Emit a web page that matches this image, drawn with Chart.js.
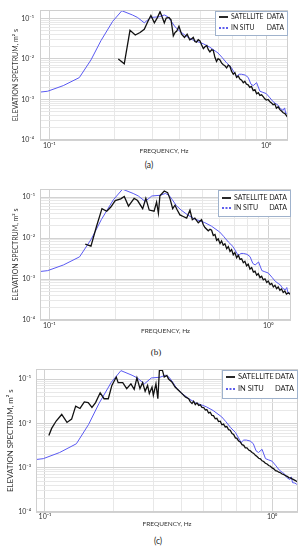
<!DOCTYPE html>
<html>
<head>
<meta charset="utf-8">
<script src="https://cdn.jsdelivr.net/npm/chart.js@4.4.1/dist/chart.umd.min.js"></script>
<style>
  body { margin: 0; background: #fff; width: 303px; height: 550px; position: relative; overflow: hidden; }
  canvas { position: absolute; left: 0; }
  .cap { position: absolute; width: 40px; text-align: center; font: 8.5px Lato, sans-serif; color: #222; }
</style>
</head>
<body>
<canvas id="chartA" width="303" height="160" style="top:0px"></canvas>
<div class="cap" style="left:129px; top:160px">(a)</div>
<canvas id="chartB" width="303" height="160" style="top:180px"></canvas>
<div class="cap" style="left:136px; top:347px; font-family:'Liberation Serif', serif; font-size:9px">(b)</div>
<canvas id="chartC" width="303" height="172" style="top:360px"></canvas>
<div class="cap" style="left:138px; top:536px">(c)</div>
<script>
// In situ spectrum (same buoy record in all three panels)
var inSituFreq = [0.0905, 0.0983, 0.116, 0.1375, 0.1557, 0.173, 0.196, 0.216, 0.2417, 0.255, 0.274, 0.294, 0.321, 0.339, 0.352, 0.365, 0.38, 0.40, 0.43, 0.461, 0.49, 0.513, 0.55, 0.60, 0.625, 0.657, 0.69, 0.73, 0.75, 0.77, 0.80, 0.826, 0.85, 0.871, 0.903, 0.935, 0.965, 1.0, 1.04, 1.076, 1.11, 1.135, 1.16, 1.197, 1.215, 1.23, 1.26, 1.285, 1.31];
var inSituSpec = [0.00152, 0.0016, 0.0022, 0.00347, 0.0095, 0.0283, 0.085, 0.155, 0.122, 0.106, 0.078, 0.106, 0.11, 0.122, 0.11, 0.085, 0.062, 0.048, 0.036, 0.029, 0.026, 0.0237, 0.0195, 0.014, 0.011, 0.008, 0.0062, 0.0037, 0.0042, 0.0042, 0.0040, 0.0035, 0.0024, 0.0022, 0.0026, 0.0016, 0.0015, 0.0014, 0.0011, 0.00088, 0.00078, 0.00072, 0.0006, 0.00054, 0.00062, 0.00046, 0.00045, 0.00042, 0.0004];

// Satellite spectrum, panel (a)
var satAFreq = [0.208, 0.2216, 0.2355, 0.249, 0.262, 0.274, 0.285, 0.294, 0.305, 0.315, 0.324, 0.331, 0.339, 0.346, 0.356, 0.364, 0.373, 0.380, 0.387, 0.396, 0.407, 0.42, 0.432, 0.444, 0.452, 0.461, 0.469, 0.477, 0.486, 0.495, 0.504, 0.513, 0.522, 0.532, 0.541, 0.55, 0.56, 0.57, 0.58, 0.59, 0.60, 0.612, 0.622, 0.634, 0.645, 0.657, 0.668, 0.68, 0.692, 0.705, 0.717, 0.73, 0.743, 0.756, 0.77, 0.784, 0.797, 0.81, 0.825, 0.84, 0.855, 0.871, 0.887, 0.903, 0.919, 0.935, 0.952, 0.97, 0.985, 1.0, 1.02, 1.04, 1.058, 1.076, 1.095, 1.114, 1.135, 1.156, 1.176, 1.197, 1.22, 1.235, 1.26];
var satASpec = [0.0100, 0.0076, 0.051, 0.039, 0.045, 0.054, 0.085, 0.118, 0.078, 0.105, 0.147, 0.11, 0.078, 0.102, 0.106, 0.093, 0.037, 0.045, 0.049, 0.064, 0.041, 0.034, 0.041, 0.0295, 0.031, 0.034, 0.027, 0.026, 0.030, 0.028, 0.022, 0.018, 0.020, 0.0215, 0.017, 0.015, 0.0168, 0.0164, 0.011, 0.0087, 0.0102, 0.0095, 0.0080, 0.0072, 0.0068, 0.0060, 0.0070, 0.0066, 0.0050, 0.0042, 0.0046, 0.0035, 0.0038, 0.0032, 0.0030, 0.0026, 0.0028, 0.0024, 0.0023, 0.0020, 0.0021, 0.00166, 0.00175, 0.00139, 0.00148, 0.00126, 0.00130, 0.00116, 0.00104, 0.00097, 0.00100, 0.00088, 0.00082, 0.00074, 0.00078, 0.00061, 0.00066, 0.00056, 0.00052, 0.00047, 0.00045, 0.00041, 0.00035];

// Satellite spectrum, panel (b)
var satBFreq = [0.146, 0.155, 0.164, 0.174, 0.183, 0.191, 0.20, 0.212, 0.22, 0.23, 0.244, 0.253, 0.267, 0.276, 0.286, 0.301, 0.309, 0.315, 0.32, 0.335, 0.347, 0.356, 0.366, 0.375, 0.384, 0.395, 0.409, 0.424, 0.439, 0.45, 0.462, 0.479, 0.496, 0.505, 0.514, 0.532, 0.542, 0.551, 0.561, 0.571, 0.581, 0.591, 0.602, 0.612, 0.623, 0.634, 0.646, 0.657, 0.669, 0.68, 0.692, 0.704, 0.717, 0.73, 0.743, 0.756, 0.769, 0.782, 0.796, 0.81, 0.825, 0.84, 0.855, 0.87, 0.885, 0.90, 0.917, 0.933, 0.949, 0.966, 0.984, 1.0, 1.019, 1.037, 1.055, 1.073, 1.092, 1.11, 1.13, 1.15, 1.17, 1.19, 1.21, 1.235, 1.27];
var satBSpec = [0.0071, 0.0063, 0.0185, 0.052, 0.045, 0.057, 0.082, 0.090, 0.103, 0.060, 0.093, 0.082, 0.052, 0.093, 0.048, 0.045, 0.075, 0.040, 0.107, 0.140, 0.128, 0.090, 0.052, 0.063, 0.048, 0.0366, 0.0335, 0.0307, 0.048, 0.028, 0.0307, 0.0235, 0.028, 0.021, 0.018, 0.015, 0.0164, 0.0155, 0.0115, 0.0122, 0.0088, 0.0095, 0.0073, 0.0085, 0.0067, 0.0072, 0.0055, 0.0062, 0.0047, 0.0052, 0.0039, 0.0044, 0.0033, 0.0038, 0.0030, 0.0031, 0.0025, 0.0027, 0.0021, 0.0023, 0.00175, 0.0019, 0.00148, 0.00156, 0.00124, 0.00135, 0.00108, 0.00116, 0.00095, 0.00101, 0.00082, 0.00089, 0.00073, 0.00078, 0.00064, 0.00070, 0.00058, 0.00064, 0.00053, 0.00057, 0.00047, 0.00051, 0.00043, 0.00046, 0.00041];

// Satellite spectrum, panel (c)
var satCFreq = [0.104, 0.107, 0.112, 0.1185, 0.125, 0.131, 0.1365, 0.1426, 0.149, 0.155, 0.161, 0.167, 0.175, 0.182, 0.19, 0.197, 0.206, 0.21, 0.22, 0.229, 0.239, 0.247, 0.254, 0.262, 0.269, 0.276, 0.283, 0.288, 0.296, 0.30, 0.308, 0.314, 0.319, 0.324, 0.329, 0.335, 0.344, 0.35, 0.362, 0.374, 0.387, 0.401, 0.415, 0.429, 0.436, 0.444, 0.451, 0.459, 0.467, 0.475, 0.483, 0.491, 0.50, 0.508, 0.516, 0.525, 0.534, 0.543, 0.552, 0.562, 0.571, 0.581, 0.591, 0.601, 0.611, 0.622, 0.632, 0.643, 0.654, 0.666, 0.677, 0.689, 0.70, 0.712, 0.724, 0.737, 0.75, 0.762, 0.775, 0.789, 0.802, 0.816, 0.83, 0.844, 0.858, 0.873, 0.888, 0.903, 0.918, 0.934, 0.95, 0.966, 0.983, 1.0, 1.017, 1.035, 1.052, 1.07, 1.088, 1.107, 1.126, 1.145, 1.165, 1.184, 1.205, 1.225, 1.25, 1.276, 1.30];
var satCSpec = [0.0053, 0.0077, 0.0113, 0.0159, 0.0105, 0.0125, 0.0245, 0.0217, 0.0305, 0.0295, 0.023, 0.0295, 0.049, 0.036, 0.036, 0.072, 0.111, 0.083, 0.083, 0.061, 0.078, 0.059, 0.107, 0.061, 0.083, 0.053, 0.072, 0.047, 0.066, 0.043, 0.078, 0.036, 0.16, 0.157, 0.157, 0.111, 0.121, 0.1, 0.086, 0.066, 0.056, 0.047, 0.0395, 0.036, 0.031, 0.028, 0.0316, 0.0266, 0.0290, 0.0255, 0.0262, 0.0230, 0.0228, 0.0200, 0.0205, 0.0172, 0.0178, 0.0152, 0.0150, 0.0127, 0.0130, 0.0110, 0.0112, 0.0093, 0.0096, 0.0083, 0.0085, 0.0072, 0.0070, 0.0059, 0.0056, 0.0047, 0.0046, 0.0040, 0.0038, 0.0033, 0.0032, 0.0028, 0.0028, 0.0025, 0.0024, 0.0022, 0.0021, 0.0019, 0.00178, 0.00163, 0.00158, 0.00143, 0.00138, 0.00126, 0.00121, 0.00112, 0.00108, 0.00099, 0.00094, 0.00086, 0.00084, 0.00079, 0.00077, 0.00072, 0.00070, 0.00066, 0.00064, 0.00060, 0.00059, 0.00056, 0.00053, 0.00050, 0.00047];

Chart.defaults.font.family = 'Lato, "DejaVu Sans", sans-serif';

var sup = { '-': '\u207B', '0': '\u2070', '1': '\u00B9', '2': '\u00B2', '3': '\u00B3', '4': '\u2074' };

function toXY(fs, ss) {
  return fs.map(function (f, i) { return { x: f, y: ss[i] }; });
}

// decade ticks + 2..9 minor ticks, labels only at powers of ten
function logTicks(scale) {
  var ticks = [];
  for (var e = -5; e <= 1; e++) {
    for (var d = 1; d <= 9; d++) {
      var v = d * Math.pow(10, e);
      if (v >= scale.min * 0.9999 && v <= scale.max * 1.0001) ticks.push({ value: v, major: d === 1 });
    }
  }
  scale.ticks = ticks;
}
function powLabel(value, index, ticks) {
  if (!ticks[index].major) return '';
  var e = String(Math.round(Math.log10(value)));
  return '10' + e.split('').map(function (c) { return sup[c]; }).join('');
}
function gridColor(ctx) {
  return ctx.tick && ctx.tick.major ? '#d2d2d2' : '#e8e8e8';
}

// grey frame round the plot + boxed legend at top right
var frameAndLegend = {
  id: 'frameAndLegend',
  afterDraw: function (chart) {
    var ctx = chart.ctx, a = chart.chartArea, lg = chart.options.plugins.frameAndLegend;
    ctx.save();
    ctx.strokeStyle = '#cfcfcf';
    ctx.lineWidth = 1;
    ctx.strokeRect(Math.round(a.left) + 0.5, Math.round(a.top) + 0.5, Math.round(a.right - a.left) - 1, Math.round(a.bottom - a.top) - 1);

    var x = Math.round(a.right - lg.w - 1), y = Math.round(a.top + 1);
    ctx.fillStyle = '#fff';
    ctx.fillRect(x, y, lg.w, lg.h);
    ctx.strokeStyle = '#9fb2cc';
    ctx.strokeRect(x + 0.5, y + 0.5, lg.w, lg.h);
    ctx.font = lg.font + 'px ' + Chart.defaults.font.family;
    ctx.textBaseline = 'middle';
    chart.data.datasets.forEach(function (ds, i) {
      var ly = y + lg.rows[i];
      ctx.strokeStyle = i ? '#2a2ae8' : '#111';
      ctx.lineWidth = i ? 1.4 : 1.8;
      ctx.setLineDash(i ? [2, 1.5] : []);
      ctx.beginPath();
      ctx.moveTo(x + 4, ly);
      ctx.lineTo(x + 13, ly);
      ctx.stroke();
      ctx.setLineDash([]);
      var words = ds.label.split(' ');
      var last = words.pop();
      ctx.fillStyle = '#222';
      ctx.textAlign = 'left';
      ctx.fillText(words.join(' '), x + 16, ly);
      ctx.textAlign = 'right';
      ctx.fillText(last, x + lg.w - 3, ly);
    });
    ctx.restore();
  }
};

function makeChart(id, satF, satS, p) {
  var config = {
    type: 'line',
    data: {
      datasets: [
        { label: 'SATELLITE DATA', data: toXY(satF, satS), borderColor: '#111', borderWidth: 1.3, pointRadius: 0, tension: 0 },
        { label: 'IN SITU DATA', data: toXY(inSituFreq, inSituSpec), borderColor: '#5a5af2', borderWidth: 1, pointRadius: 0, tension: 0 }
      ]
    },
    options: {
      responsive: false,
      animation: false,
      layout: { padding: p.pad },
      plugins: {
        legend: { display: false },
        tooltip: { enabled: false },
        frameAndLegend: p.legend
      },
      scales: {
        x: {
          type: 'logarithmic',
          min: p.xMin,
          max: p.xMax,
          afterBuildTicks: logTicks,
          afterFit: function (s) { s.height = p.xH; },
          border: { display: false },
          grid: { color: gridColor, drawTicks: false },
          ticks: { callback: powLabel, autoSkip: false, maxRotation: 0, padding: p.xTickPad, color: '#333', font: { size: 7 } },
          title: { display: true, text: 'FREQUENCY, Hz', color: '#333', font: { size: 6.5 }, padding: { top: 0, bottom: p.xTitlePad } }
        },
        y: {
          type: 'logarithmic',
          min: 0.0001,
          max: p.yMax,
          afterBuildTicks: logTicks,
          afterFit: function (s) { s.width = p.yW; },
          border: { display: false },
          grid: { color: gridColor, drawTicks: false },
          ticks: { callback: powLabel, autoSkip: false, padding: p.yTickPad, color: '#333', font: { size: 7 } },
          title: { display: true, text: 'ELEVATION SPECTRUM, m\u00B2 s', color: '#333', font: { size: p.yTitleSize }, padding: { top: p.yTitlePad, bottom: 0 } }
        }
      }
    },
    plugins: [frameAndLegend]
  };
  return new Chart(document.getElementById(id).getContext('2d'), config);
}

makeChart('chartA', satAFreq, satASpec, {
  xMin: 0.0906, xMax: 1.26, yMax: 0.16,
  pad: { top: 5, right: 15, left: 0, bottom: 0 }, yW: 40, xH: 20,
  xTickPad: 2, xTitlePad: 5, yTickPad: 6, yTitlePad: 12, yTitleSize: 7,
  legend: { w: 72, h: 24, rows: [6, 17], font: 6.8 }
});
makeChart('chartB', satBFreq, satBSpec, {
  xMin: 0.0907, xMax: 1.27, yMax: 0.155,
  pad: { top: 3, right: 12, left: 0, bottom: 0 }, yW: 40, xH: 20,
  xTickPad: 2, xTitlePad: 5, yTickPad: 5, yTitlePad: 12, yTitleSize: 7,
  legend: { w: 72, h: 26, rows: [8, 18], font: 7 }
});
makeChart('chartC', satCFreq, satCSpec, {
  xMin: 0.0913, xMax: 1.30, yMax: 0.167,
  pad: { top: 9, right: 5, left: 0, bottom: 0 }, yW: 36, xH: 20,
  xTickPad: 1, xTitlePad: 4, yTickPad: 5, yTitlePad: 6, yTitleSize: 7.8,
  legend: { w: 75, h: 28, rows: [7, 19], font: 7.5 }
});
</script>
</body>
</html>
